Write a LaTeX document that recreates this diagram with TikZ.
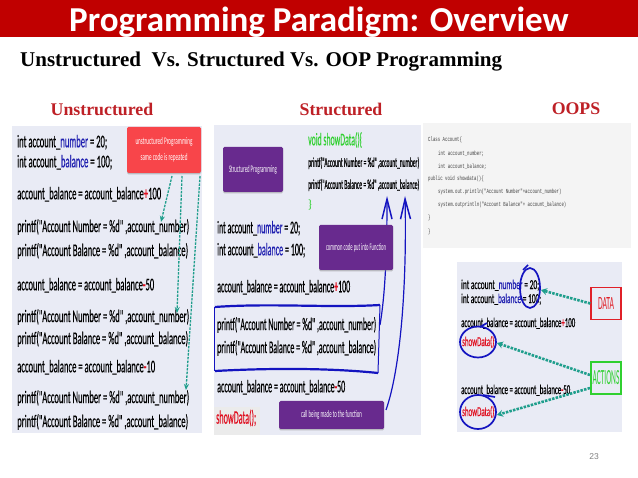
\documentclass[tikz,border=0pt]{standalone}
\usepackage{graphicx}
\usepackage{fontspec}
\setmainfont{Liberation Serif}
\newfontfamily\carl{Carlito}
\newfontfamily\carlb[FakeBold=0.5]{Carlito}
\newfontfamily\lsans{Liberation Sans}
\newfontfamily\lmono[FakeStretch=0.65]{Liberation Mono}
\usetikzlibrary{arrows.meta,shadows}
\definecolor{band}{HTML}{C00000}
\definecolor{headred}{HTML}{BE2026}
\definecolor{panel}{HTML}{E9EBF5}
\definecolor{oopbg}{HTML}{F4F4F4}
\definecolor{boxred}{HTML}{F8454A}
\definecolor{boxpur}{HTML}{682A8E}
\definecolor{teal}{HTML}{1F9E8C}
\definecolor{hand}{HTML}{1414C0}
\definecolor{kwblue}{HTML}{2020B0}
\definecolor{oprd}{HTML}{E01020}
\definecolor{gren}{HTML}{30D030}
\definecolor{tagred}{HTML}{E02028}
\newcommand\nm{\textcolor{kwblue}{number}}
\newcommand\bl{\textcolor{kwblue}{balance}}
\newcommand\pl{\textcolor{oprd}{\textbf{+}}}
\newcommand\mi{\textcolor{oprd}{\textbf{-}}}
\newcommand\PN{printf("Account Number = \%d" ,account\_number)}
\newcommand\PB{printf("Account Balance = \%d" ,account\_balance)}
% name, x, y, width, height, text
\newcommand\cl[6]{\node[codeline] (#1) at (#2,#3) {\resizebox{#4pt}{#5pt}{\carlb\vphantom{(}#6}};}
\newcommand\bt[3]{\resizebox{#1pt}{#2pt}{\carl #3}}
\tikzset{
  codeline/.style={anchor=west,inner sep=0pt,text=black},
  panelbg/.style={fill=#1,draw=none},
  heading/.style={font=\bfseries\fontsize{17.8}{18}\selectfont,text=headred,inner sep=0pt},
  purbox/.style={fill=boxpur,rounded corners=1.5pt,text=white,align=center,inner sep=1pt,
    drop shadow={shadow xshift=0pt,shadow yshift=-1.5pt,opacity=.45}},
  redbox/.style={fill=boxred,rounded corners=1.5pt,text=white,align=center,inner sep=1pt,
    drop shadow={shadow xshift=0pt,shadow yshift=-1.5pt,opacity=.45}},
  tealthin/.style={draw=teal,line width=1.3pt,dash pattern=on 2.5pt off 1.2pt,-{Stealth[length=6pt,width=5pt]}},
  tealthick/.style={draw=teal,line width=2.6pt,dash pattern=on 2.5pt off 1.2pt,-{Stealth[length=6pt,width=7pt]}},
  handline/.style={draw=hand,line width=1pt},
  handarrow/.style={draw=hand,line width=1.2pt,-{Straight Barb[length=20pt,width=10pt,line width=1.5pt]}},
  handoval/.style={draw=hand,line width=1.7pt},
  tagbox/.style={draw=#1,line width=1.4pt,minimum width=30pt,minimum height=32pt,inner sep=0pt,text=#1},
  oopline/.style={anchor=west,inner sep=0pt,text=black!75,font=\lmono\fontsize{6.2}{6.2}\selectfont},
}
\begin{document}
\begin{tikzpicture}[x=1pt,y=-1pt]
\useasboundingbox (0,0) rectangle (638,478);
\fill[white] (0,0) rectangle (638,478);
% header
\fill[band] (0,0) rectangle (638,37);
\node[text=white,inner sep=0pt,anchor=base] (title) at (319,32) {\carl\bfseries\fontsize{35}{35}\selectfont Programming Paradigm: Overview};
\node[anchor=west,inner sep=0pt,font=\bfseries\fontsize{21}{21}\selectfont] (sub) at (20,62) {Unstructured\ \ Vs. Structured Vs. OOP Programming};
\node[heading] (h1) at (102,109) {Unstructured};
\node[heading] (h2) at (341,109) {Structured};
\node[heading] (h3) at (576,109) {OOPS};
% panels
\fill[panelbg=panel] (12,126) rectangle (202,433);
\fill[panelbg=panel] (214,125) rectangle (421,435);
\fill[panelbg=oopbg] (423,123) rectangle (631,248);
\fill[panelbg=panel] (457,262) rectangle (622,432);

% --- unstructured ---
\cl{a1}{17}{142}{90}{13}{int account\_\nm{} = 20;}
\cl{a2}{17}{162}{95}{13}{int account\_\bl{} = 100;}
\cl{a3}{17}{194}{144}{13}{account\_balance = account\_balance\pl 100}
\cl{a4}{17}{227}{172}{13}{\PN}
\cl{a5}{17}{251}{171}{13}{\PB}
\cl{a6}{17}{285}{137}{13}{account\_balance = account\_balance\mi 50}
\cl{a7}{17}{317}{172}{13}{\PN}
\cl{a8}{17}{339}{171}{13}{\PB}
\cl{a9}{17}{367}{138}{13}{account\_balance = account\_balance\mi 10}
\cl{a10}{17}{398}{172}{13}{\PN}
\cl{a11}{17}{422}{171}{13}{\PB}
\node[redbox,minimum width=74pt,minimum height=46pt] (rbox) at (164,150) {\bt{57}{7}{unstructured Programming}\\[4pt]\bt{47}{7}{same code is repeated}};
\coordinate (t1s) at (172,176); \coordinate (t1e) at (161,222);
\coordinate (t2s) at (182,176); \coordinate (t2e) at (177,313);
\coordinate (t3s) at (200,176); \coordinate (t3e) at (186,390);
\draw[tealthin] (t1s) -- (t1e);
\draw[tealthin] (t2s) -- (t2e);
\draw[tealthin] (t3s) -- (t3e);

% --- structured ---
\node[codeline] (b0) at (308,140) {\resizebox{54pt}{13pt}{\carlb\textcolor{gren}{void showData()\{}}};
\cl{b1}{308}{163}{111}{10}{\PN}
\cl{b2}{308}{185}{111}{10}{\PB}
\node[codeline] (b3) at (308,205) {\textcolor{gren}{\carl\fontsize{12}{12}\selectfont\}}};
\cl{b4}{217}{228}{83}{13}{int account\_\nm{} = 20;}
\cl{b5}{217}{250}{88}{13}{int account\_\bl{} = 100;}
\cl{b6}{217}{287}{133}{13}{account\_balance = account\_balance\pl 100}
\cl{b7}{217}{325}{159}{13}{\PN}
\cl{b8}{217}{348}{159}{13}{\PB}
\cl{b9}{217}{387}{128}{13}{account\_balance = account\_balance\mi 50}
\fill[black!8] (214,407) rectangle (260,435);
\node[codeline] (b10) at (216,418) {\resizebox{40pt}{14pt}{\carlb\vphantom{(}\textcolor{oprd}{showData();}}};
% hand-drawn box
\coordinate (hb1) at (215,307); \coordinate (hb2) at (380,305);
\coordinate (hb3) at (378,373); \coordinate (hb4) at (215,371);
\draw[handline,line width=2.2pt] (hb1) .. controls (270,303) and (330,308) .. (hb2);
\draw[handline] (hb2) -- (hb3);
\draw[handline,line width=2.2pt] (hb3) .. controls (330,368) and (270,368) .. (hb4);
\draw[handline] (214,307) -- (214,371);
% arrows to the function
\coordinate (u1s) at (380,325); \coordinate (u1e) at (387,196);
\coordinate (u2s) at (386,410); \coordinate (u2e) at (405,196);
\draw[handarrow] (u1s) .. controls (386,290) and (387,240) .. (u1e);
\draw[handarrow] (u2s) .. controls (400,370) and (407,290) .. (u2e);
\node[purbox,minimum width=60pt,minimum height=45pt] (p1) at (253,169.5) {\bt{48}{7}{Structured Programming}};
\node[purbox,minimum width=74pt,minimum height=45pt] (p2) at (356,247.5) {\bt{60}{7}{common code put into Function}};
\node[purbox,minimum width=105pt,minimum height=28pt] (p3) at (331.5,415) {\bt{61}{7}{call being made to the function}};

% --- OOP listing ---
\node[oopline] (c1) at (428,140) {Class Account\{};
\node[oopline] (c2) at (438,154) {int account\_number;};
\node[oopline] (c3) at (438,167) {int account\_balance;};
\node[oopline] (c4) at (428,179) {public void showdata()\{};
\node[oopline] (c5) at (438,192) {system.out.println("Account Number"+account\_number)};
\node[oopline] (c6) at (438,205) {system.outprintln("Account Balance"+ account\_balance)};
\node[oopline] (c7) at (428,218) {\}};
\node[oopline] (c8) at (428,232) {\}};

% --- OOP usage ---
\cl{d1}{461}{285}{78}{10}{int account\_\nm{} = 20;}
\cl{d2}{461}{299}{80}{10}{int account\_\bl{} = 100;}
\cl{d3}{461}{323}{114}{10}{account\_balance = account\_balance\pl 100}
\node[codeline] (d4) at (462,342) {\resizebox{34pt}{10pt}{\carlb\vphantom{(}\textcolor{oprd}{showData();}}};
\cl{d5}{461}{390}{109}{10}{account\_balance = account\_balance\mi 50}
\node[codeline] (d6) at (462,412) {\resizebox{34pt}{10pt}{\carlb\vphantom{(}\textcolor{oprd}{showData();}}};
\draw[handoval] (530,288) ellipse [x radius=10,y radius=20];
\draw[handoval] (523,270) -- (528,265);
\draw[handoval] (478,342) ellipse [x radius=18,y radius=15.5];
\draw[handoval] (480,327) -- (487,323);
\draw[handoval] (478,412) ellipse [x radius=18,y radius=17];
\draw[handoval] (483,395) -- (495,397);
\node[tagbox=tagred] (data) at (606,303.5) {\bt{16}{12}{DATA}};
\node[tagbox=gren] (act) at (606,378) {\bt{27}{14}{ACTIONS}};
\coordinate (e1) at (541,290); \coordinate (e2) at (497,343); \coordinate (e3) at (497,415);
\coordinate (s2) at (590,375); \coordinate (s3) at (590,388);
\draw[tealthick] (data.west) -- (e1);
\draw[tealthick] (s2) -- (e2);
\draw[tealthick] (s3) -- (e3);

\node[text=black!50,inner sep=0pt,font=\lsans\fontsize{8.5}{8.5}\selectfont] (pg) at (594,457) {23};
\end{tikzpicture}
\end{document}
